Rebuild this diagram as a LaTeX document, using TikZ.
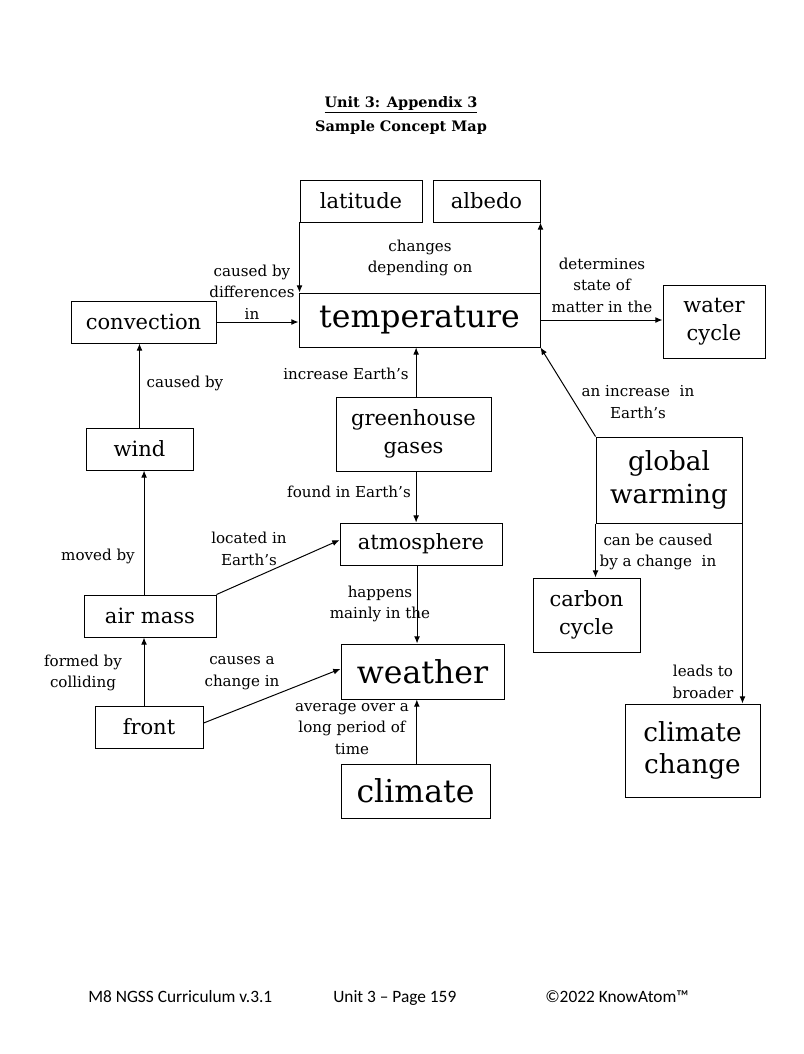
\documentclass[tikz,border=0pt]{standalone}
\usepackage{fontspec}
\setmainfont{DejaVu Serif}
\newfontfamily\footfont{Carlito}
\usetikzlibrary{arrows.meta}

\tikzset{
  concept/.style 2 args={draw, line width=0.75pt, align=center, inner sep=0pt,
    minimum width=#1*0.7612pt, minimum height=#2*0.7612pt},
  sz16/.style={font=\fontsize{16}{21}\selectfont},
  sz20/.style={font=\fontsize{20}{25}\selectfont},
  sz24/.style={font=\fontsize{24}{29}\selectfont},
  lbl/.style={align=center, inner sep=0pt, font=\fontsize{11.5}{16.4}\selectfont},
  foot/.style={anchor=base west, inner sep=0pt, font=\footfont\fontsize{13.2}{15}\selectfont},
  link/.style={-{Latex[length=5.5pt,width=4.5pt]}, line width=0.75pt}
}

\begin{document}
\begin{tikzpicture}[x=0.7612pt, y=-0.7612pt]
\useasboundingbox (0,0) rectangle (804,1054);

\draw (401,105)  node (title1) [font=\fontsize{11}{14}\selectfont\bfseries] {\underline{Unit 3: Appendix 3}};
\draw (401,128)  node (title2) [font=\fontsize{11}{14}\selectfont\bfseries] {Sample Concept Map};

\draw (361,201)   node (latitude) [concept={122}{42}, sz16] {latitude};
\draw (486.5,201) node (albedo)   [concept={107}{42}, sz16] {albedo};
\draw (419.5,320) node (temp)     [concept={241}{54}, sz24] {temperature};
\draw (143.5,322) node (convect)  [concept={145}{42}, sz16] {convection};
\draw (714,321.5) node (water)    [concept={102}{73}, sz16] {water\\cycle};
\draw (latitude.south west) edge[link] (latitude.south west |- temp.north);
\draw (temp.north east) edge[link] (temp.north east |- albedo.south);
\draw (convect.east) edge[link] (convect.east -| temp.west);
\draw (temp.east) edge[link] (temp.east -| water.west);

\draw (420,258) node (l1) [lbl] {changes\\depending on};
\draw (252,292) node (l2) [lbl] {caused by\\differences\\in};
\draw (602,285) node (l3) [lbl] {determines\\state of\\matter in the};

\draw (139.5,449) node (wind)    [concept={107}{42}, sz16] {wind};
\draw (413.5,434) node (green)   [concept={155}{74}, sz16] {greenhouse\\gases};
\draw (669,480)   node (global)  [concept={146}{86}, sz20] {global\\warming};
\draw (wind.north) edge[link] (wind.north |- convect.south);
\draw ([xshift=2pt]green.north) edge[link] ([xshift=2pt]green.north |- temp.south);
\draw (global.north west) edge[link] (temp.south east);

\draw (346,374) node (l4) [lbl] {increase Earth’s};
\draw (185,383) node (l5) [lbl] {caused by};
\draw (638,402) node (l6) [lbl] {an increase~ in\\Earth’s};

\draw (421,544)   node (atmos)   [concept={162}{42}, sz16] {atmosphere};
\draw (150,616)   node (airmass) [concept={132}{42}, sz16] {air mass};
\draw (586.5,615) node (carbon)  [concept={107}{74}, sz16] {carbon\\cycle};
\draw ([xshift=2pt]green.south) edge[link] ([xshift=2pt]green.south |- atmos.north);
\draw ([xshift=-4.5pt]airmass.north) edge[link] ([xshift=-4.5pt]airmass.north |- wind.south);
\draw (airmass.north east) edge[link] ([yshift=3pt]atmos.west);
\draw (global.south west) edge[link] (global.south west |- carbon.north);

\draw (349,492) node (l7)  [lbl] {found in Earth’s};
\draw (249,549) node (l8)  [lbl] {located in\\Earth’s};
\draw (98,556)  node (l9)  [lbl] {moved by};
\draw (658,552) node (l10) [lbl] {can be caused\\by a change~ in};

\draw (422.5,671.5) node (weather) [concept={163}{55}, sz24] {weather};
\draw (149,727)     node (front)   [concept={108}{42}, sz16] {front};
\draw (415.5,791)   node (climate) [concept={149}{54}, sz24] {climate};
\draw (692.5,750.5) node (change)  [concept={135}{93}, sz20] {climate\\change};
\draw ([xshift=-3pt]atmos.south) edge[link] ([xshift=-3pt]atmos.south |- weather.north);
\draw ([xshift=-3.8pt]front.north) edge[link] ([xshift=-3.8pt]front.north |- airmass.south);
\draw ([yshift=3pt]front.east) edge[link] ([yshift=2pt]weather.west);
\draw ([xshift=1pt]climate.north) edge[link] ([xshift=1pt]climate.north |- weather.south);
\draw (global.south east) edge[link] (global.south east |- change.north);

\draw (380,604) node (l11) [lbl] {happens\\mainly in the};
\draw (83,673)  node (l12) [lbl] {formed by\\colliding};
\draw (242,673) node (l13) [lbl] {causes a\\change in};
\draw (352,729) node (l14) [lbl] {average over a\\long period of\\time};
\draw (703,682) node (l15) [lbl] {leads to\\broader};

\draw (88,1002)  node (foot1) [foot] {M8 NGSS Curriculum v.3.1};
\draw (333,1002) node (foot2) [foot] {Unit 3 – Page 159};
\draw (545,1002) node (foot3) [foot] {©2022 KnowAtom™};

\end{tikzpicture}
\end{document}
